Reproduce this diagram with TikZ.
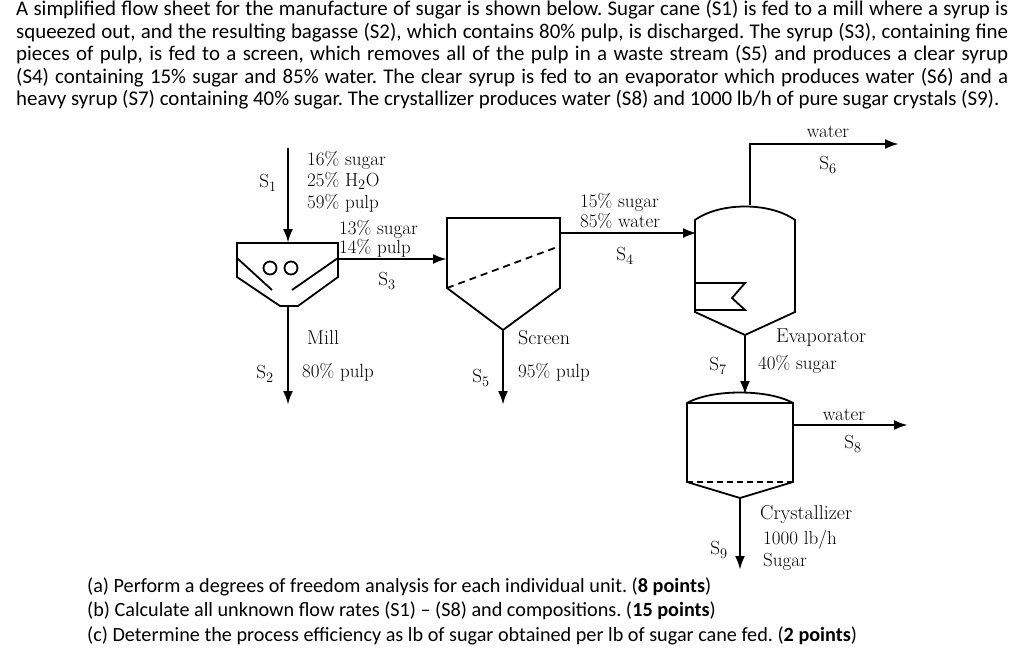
\documentclass[tikz,border=0pt]{standalone}
\usepackage{fontspec}
\newfontfamily\hdr{Carlito}
\usetikzlibrary{arrows.meta}
\begin{document}
\frenchspacing
\begin{tikzpicture}[x=1pt,y=-1pt,
  eq/.style={line width=1.8pt},
  st/.style={line width=2.6pt,-{Latex[length=14pt,width=10pt]}},
  hl/.style={anchor=base west,inner sep=0pt,font=\hdr\fontsize{20.9}{22}\selectfont},
  ql/.style={anchor=base west,inner sep=0pt,font=\hdr\fontsize{20.2}{22}\selectfont}]
\useasboundingbox (0,0) rectangle (1024,655);
% header
\node[hl] (h1) at (16,16) {\makebox[992pt][s]{A simplified flow sheet for the manufacture of sugar is shown below. Sugar cane (S1) is fed to a mill where a syrup is}};
\node[hl] (h2) at (16,38.5) {\makebox[992pt][s]{squeezed out, and the resulting bagasse (S2), which contains 80\% pulp, is discharged. The syrup (S3), containing fine}};
\node[hl] (h3) at (16,61) {\makebox[992pt][s]{pieces of pulp, is fed to a screen, which removes all of the pulp in a waste stream (S5) and produces a clear syrup}};
\node[hl] (h4) at (16,83.5) {\makebox[992pt][s]{(S4) containing 15\% sugar and 85\% water. The clear syrup is fed to an evaporator which produces water (S6) and a}};
\node[hl] (h5) at (16,106) {heavy syrup (S7) containing 40\% sugar. The crystallizer produces water (S8) and 1000 lb/h of pure sugar crystals (S9).};
\node[ql] (q1) at (87,592) {(a) Perform a degrees of freedom analysis for each individual unit. (\textbf{8 points})};
\node[ql] (q2) at (87,616.5) {(b) Calculate all unknown flow rates (S1) – (S8) and compositions. (\textbf{15 points})};
\node[ql] (q3) at (87,641) {(c) Determine the process efficiency as lb of sugar obtained per lb of sugar cane fed. (\textbf{2 points})};
% Mill
\draw[eq] (237,243) -- (338,243) -- (338,277) -- (298,306) -- (280,306) -- (237,277) -- cycle;
\draw[eq] (237,258) -- (272,290) (338,258) -- (292,290);
\draw[eq] (270,268) circle[radius=6.5] (291,268) circle[radius=6.5];
\coordinate (m1) at (288,148); \coordinate (mt) at (288,243);
\coordinate (mb) at (288,306); \coordinate (m2) at (288,405);
\draw[st] (m1) -- (mt);
\draw[st] (mb) -- (m2);
% Screen
\draw[eq] (447,218) -- (560,218) -- (560,288) -- (503,330) -- (447,288) -- cycle;
\draw[eq,dashed,dash pattern=on 7pt off 5pt] (447,288) -- (560,246);
\coordinate (m3) at (338,259); \coordinate (s3) at (447,259);
\draw[st] (m3) -- (s3);
\coordinate (sb) at (503,330); \coordinate (s5) at (503,405);
\draw[st] (sb) -- (s5);
\coordinate (s4a) at (560,233); \coordinate (s4b) at (697,233);
\draw[st] (s4a) -- (s4b);
% Evaporator
\draw[eq] (695,312) -- (695,220) .. controls (720,202) and (770,202) .. (795,220) -- (795,312) -- (745,335) -- cycle;
\draw[eq] (695,283) -- (745,283) -- (732,298) -- (745,310) -- (695,310);
\coordinate (e6) at (750,205); \coordinate (e6c) at (750,144); \coordinate (e6e) at (899,144);
\draw[st] (e6) -- (e6c) -- (e6e);
\coordinate (eb) at (745,335); \coordinate (ct) at (745,395);
\draw[st] (eb) -- (ct);
% Crystallizer
\draw[eq] (687,482) -- (687,403) .. controls (712,389) and (768,389) .. (793,403) -- (793,482) -- (740,498) -- cycle;
\draw[eq] (687,403) -- (793,403);
\draw[eq,dashed,dash pattern=on 6pt off 4pt] (687,482) -- (793,482);
\coordinate (c8a) at (793,425); \coordinate (c8b) at (908,425);
\draw[st] (c8a) -- (c8b);
\coordinate (cb) at (740,498); \coordinate (c9) at (740,570);
\draw[st] (cb) -- (c9);
% labels
\begin{scope}[every node/.style={inner sep=0pt,font=\fontsize{19}{20}\selectfont}]
\node[anchor=west] (l1) at (307,160) {16\% sugar};
\node[anchor=west] (l2) at (307,181) {25\% H$_2$O};
\node[anchor=west] (l3) at (307,203) {59\% pulp};
\node (S1) at (268,183) {S$_1$};
\node[anchor=west] (l4) at (339,229) {13\% sugar};
\node[anchor=west] (l5) at (339,248) {14\% pulp};
\node (S3) at (387,281) {S$_3$};
\node[anchor=west] (mill) at (307,338) {\fontsize{20}{20}\selectfont Mill};
\node (S2) at (265,374) {S$_2$};
\node[anchor=west] (l6) at (302,372) {80\% pulp};
\node[anchor=west] (l7) at (580,202) {15\% sugar};
\node[anchor=west] (l8) at (580,221) {85\% water};
\node (S4) at (625,256) {S$_4$};
\node[anchor=west] (scr) at (518,338) {\fontsize{20}{20}\selectfont Screen};
\node (S5) at (481,378) {S$_5$};
\node[anchor=west] (l9) at (518,372) {95\% pulp};
\node (w6) at (828,132) {water};
\node (S6) at (828,165) {S$_6$};
\node[anchor=west] (eva) at (776,338) {\fontsize{20}{20}\selectfont Evaporator};
\node (S7) at (718,366) {S$_7$};
\node[anchor=west] (l10) at (758,364) {40\% sugar};
\node (w8) at (844,415) {water};
\node (S8) at (853,444) {S$_8$};
\node[anchor=west] (cry) at (760,515) {\fontsize{20}{20}\selectfont Crystallizer};
\node[anchor=west] (l11) at (763,540) {1000 lb/h};
\node[anchor=west] (l12) at (763,562) {Sugar};
\node (S9) at (719,550) {S$_9$};
\end{scope}
\end{tikzpicture}
\end{document}
